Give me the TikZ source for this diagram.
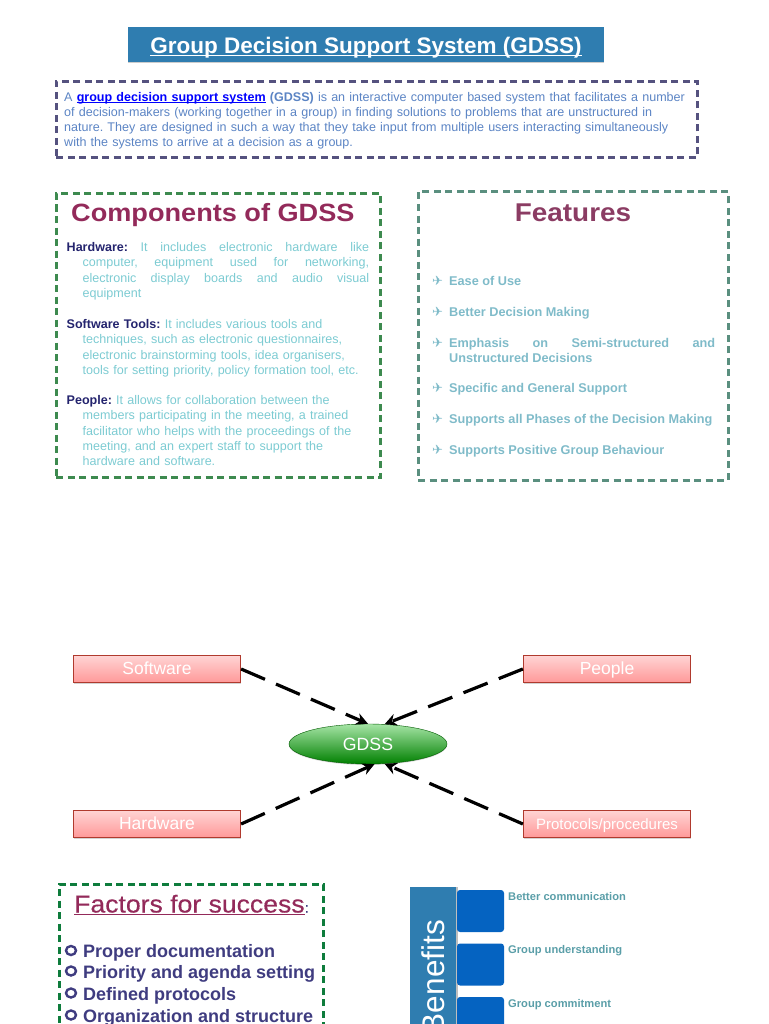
\documentclass[tikz,border=0pt]{standalone}
\usepackage{fontspec}
\setmainfont{Liberation Sans}
\newfontfamily\planefont{DejaVu Sans}
\newfontfamily\headfont[FakeStretch=1.085]{Liberation Sans}
\newfontfamily\factfont[FakeStretch=1.085,FakeBold=0.4]{Liberation Sans}
\usetikzlibrary{shapes,arrows.meta,shadows}
\frenchspacing

\definecolor{titleblue}{HTML}{2F7DB0}
\definecolor{introline}{HTML}{55527F}
\definecolor{introtext}{HTML}{5B84C4}
\definecolor{compline}{HTML}{3D8A4F}
\definecolor{featline}{HTML}{5A8F7F}
\definecolor{factline}{HTML}{0E7C3C}
\definecolor{headred}{HTML}{932A5A}
\definecolor{featred}{HTML}{8B3C63}
\definecolor{lead}{HTML}{24246E}
\definecolor{aqua}{HTML}{7CCBD2}
\definecolor{featitem}{HTML}{7FBBC9}
\definecolor{factitem}{HTML}{3F3C80}
\definecolor{benefititem}{HTML}{5A9EA8}
\definecolor{benefitbox}{HTML}{0563C1}
\definecolor{redline}{HTML}{B03A2E}

\tikzset{
    dashbox/.style={draw, line width=3pt, dash pattern=on 7pt off 4.5pt},
    redbox/.style={draw=redline, line width=1.2pt, top color=red!17!white, bottom color=red!40!white,
        minimum width=167pt, minimum height=27pt, inner sep=0pt, text=white, text height=12pt, text depth=2pt,
        drop shadow={shadow xshift=0pt, shadow yshift=-1.5pt, opacity=.35}},
    link/.style={line width=3.2pt, dash pattern=on 26pt off 12pt, -{Stealth[length=12pt,width=12pt]}},
    bluebox/.style={fill=benefitbox, rounded corners=3pt, minimum width=47pt, minimum height=42pt, inner sep=0pt},
    benefit/.style={anchor=west, inner sep=0pt, font=\fontsize{11.15}{13}\selectfont\bfseries, text=benefititem},
    ringdot/.style={ellipse, draw=factitem, line width=2.4pt, minimum width=10pt, minimum height=9pt, inner sep=0pt},
    factor/.style={anchor=west, inner sep=0pt, font=\fontsize{18}{21}\selectfont\bfseries, text=factitem},
    feature/.style={anchor=north west, inner sep=0pt, text width=266pt, align=justify,
        font=\fontsize{12.7}{15.2}\selectfont\bfseries, text=featitem},
    plane/.style={anchor=west, inner sep=0pt, font=\planefont\fontsize{13}{15}\selectfont, text=featitem},
    bodytext/.style={anchor=north west, inner sep=0pt, text width=302.5pt, text=aqua,
        font=\fontsize{12.55}{15.2}\selectfont}
}

\newcommand{\hang}{\hangindent=16pt\hangafter=1 }
\newlength{\ulen}
\newcommand{\underrule}[3]{\settowidth{\ulen}{#3}\rlap{\rule[#1]{\ulen}{#2}}#3}

\begin{document}
\begin{tikzpicture}[x=1pt, y=-1pt]
    \useasboundingbox (0,0) rectangle (768,1024);
    \clip (0,0) rectangle (768,1024);

    % TITLE
    \node[fill=titleblue, minimum width=476pt, minimum height=35pt, inner sep=0pt, text=white, text height=19pt, text depth=1pt,
        font=\fontsize{22.5}{24}\selectfont\bfseries, drop shadow={shadow xshift=0pt, shadow yshift=-1.5pt, opacity=.4}]
        (title) at (366,44.5) {\underrule{-3pt}{1.5pt}{Group Decision Support System (GDSS)}};

    % INTRO
    \node[dashbox, draw=introline, minimum width=641pt, minimum height=76pt] (introbox) at (376.5,119.5) {};
    \node[anchor=north west, inner sep=0pt, text width=630pt, text=introtext, align=left,
        font=\fontsize{12.55}{15.2}\selectfont] (intro) at (64,92) {A \textcolor{blue}{\textbf{\underrule{-2pt}{1pt}{group decision support system}}} \textbf{(GDSS)} is an interactive computer based system that facilitates a number\\
        of decision-makers (working together in a group) in finding solutions to problems that are unstructured in\\
        nature. They are designed in such a way that they take input from multiple users interacting simultaneously\\
        with the systems to arrive at a decision as a group.};

    % COMPONENTS
    \node[dashbox, draw=compline, minimum width=324pt, minimum height=284pt] (compbox) at (218,335.5) {};
    \node[anchor=west, inner sep=0pt, text=headred, font=\headfont\fontsize{25}{30}\selectfont\bfseries] (comphead) at (71,215) {Components of GDSS};
    \node[bodytext, align=justify] (hardware) at (66.5,242.5) {\hang\textcolor{lead}{\textbf{Hardware:}} It includes electronic hardware like\linebreak computer, equipment used for networking,\linebreak electronic display boards and audio visual\linebreak equipment\par};
    \node[bodytext, align=left] (software) at (66.5,319.5) {\textcolor{lead}{\textbf{Software Tools:}} It includes various tools and\\
        \hspace*{16pt}techniques, such as electronic questionnaires,\\
        \hspace*{16pt}electronic brainstorming tools, idea organisers,\\
        \hspace*{16pt}tools for setting priority, policy formation tool, etc.};
    \node[bodytext, align=left] (people) at (66.5,395.5) {\textcolor{lead}{\textbf{People:}} It allows for collaboration between the\\
        \hspace*{16pt}members participating in the meeting, a trained\\
        \hspace*{16pt}facilitator who helps with the proceedings of the\\
        \hspace*{16pt}meeting, and an expert staff to support the\\
        \hspace*{16pt}hardware and software.};

    % FEATURES
    \node[dashbox, draw=featline, minimum width=310pt, minimum height=288pt] (featbox) at (573,336) {};
    \node[inner sep=0pt, text=featred, font=\headfont\fontsize{25.7}{30}\selectfont\bfseries] (feathead) at (573,213) {Features};
    \foreach \name/\ypos/\txt in {ease/276/Ease of Use, better/307/Better Decision Making,
        emph/338/Emphasis on Semi-structured and\linebreak Unstructured Decisions,
        spec/383/Specific and General Support, phases/414/Supports all Phases of the Decision Making,
        positive/445/Supports Positive Group Behaviour} {
        \node[feature] (\name) at (449,\ypos) {\txt};
        \node[plane] (\name dot) at (432,\ypos+4.5) {✈};
    }

    % GDSS DIAGRAM
    \node[ellipse, draw=green!35!black, top color=green!70!black!35!white, bottom color=green!50!black, minimum width=158pt, minimum height=40pt,
        inner sep=0pt, text=white, font=\fontsize{17.7}{20}\selectfont,
        drop shadow={shadow xshift=0pt, shadow yshift=-1pt, opacity=.3}] (gdss) at (368,744) {GDSS};
    \node[redbox, font=\fontsize{17.5}{20}\selectfont] (soft) at (157,669) {Software};
    \node[redbox, font=\fontsize{17.5}{20}\selectfont] (peop) at (607,669) {People};
    \node[redbox, font=\fontsize{17.5}{20}\selectfont] (hard) at (157,824) {Hardware};
    \node[redbox, font=\fontsize{15}{17}\selectfont] (prot) at (607,824) {Protocols/procedures};
    \draw[link] (soft.east) -- (gdss.90);
    \draw[link] (peop.west) -- (gdss.50);
    \draw[link] (hard.east) -- (gdss.-72);
    \draw[link] (prot.west) -- (gdss.-50);

    % FACTORS
    \node[dashbox, draw=factline, minimum width=264pt, minimum height=180pt] (factbox) at (191,974) {};
    \node[anchor=base west, inner sep=0pt, text=headred, font=\factfont\fontsize{24.5}{28}\selectfont] (facthead) at (74,912.5) {\underrule{-2.5pt}{1.2pt}{Factors for success}\textcolor{factitem}{\fontsize{14}{16}\selectfont:}};
    \foreach \name/\ypos/\txt in {docs/950.5/Proper documentation, agenda/971/Priority and agenda setting,
        proto/993/Defined protocols, organ/1015/Organization and structure} {
        \node[ringdot] (\name dot) at (71,\ypos) {};
        \node[factor] (\name) at (83,\ypos+2.5) {\txt};
    }

    % BENEFITS
    \node[fill=black!25, minimum width=47pt, minimum height=160pt, inner sep=0pt] (barshade) at (434.5,967) {};
    \node[fill=titleblue, minimum width=46pt, minimum height=160pt, inner sep=0pt] (bar) at (433,967) {};
    \node[rotate=90, anchor=east, inner sep=0pt, text=white, font=\fontsize{31.5}{36}\selectfont] (benefits) at (433,920) {Benefits};
    \node[bluebox] (comm) at (480.5,911) {};
    \node[bluebox] (unders) at (480.5,964.5) {};
    \node[bluebox] (commit) at (480.5,1018) {};
    \node[benefit] (commtext) at (508,896.5) {Better communication};
    \node[benefit] (understext) at (508,950.5) {Group understanding};
    \node[benefit] (committext) at (508,1004.5) {Group commitment};
\end{tikzpicture}
\end{document}
